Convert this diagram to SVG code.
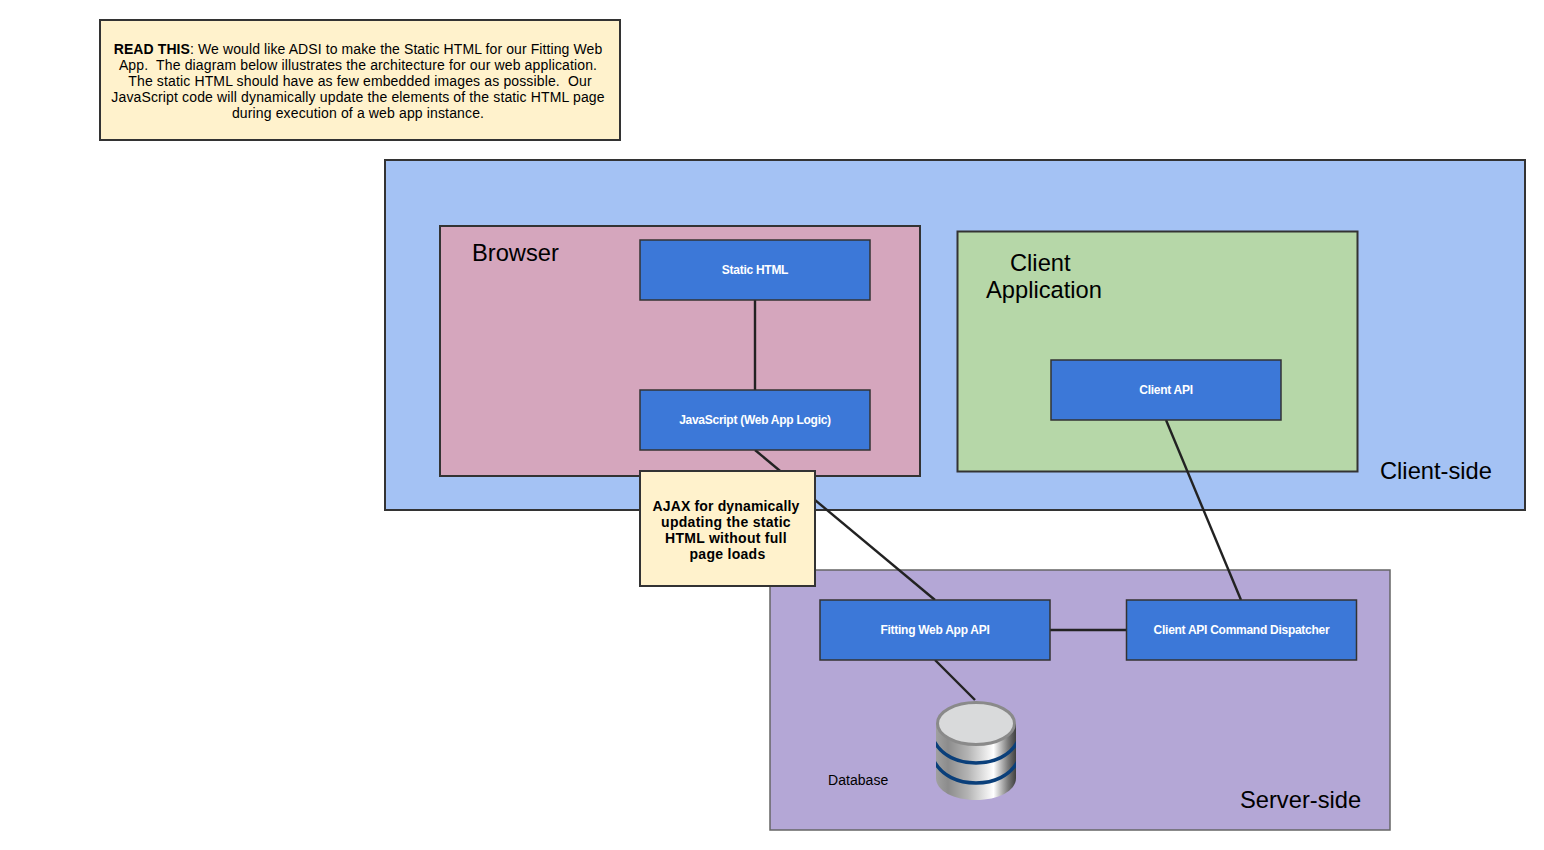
<svg xmlns="http://www.w3.org/2000/svg" width="1544" height="850" viewBox="0 0 1544 850">
<defs>
<linearGradient id="cyl" x1="0" y1="0" x2="1" y2="0">
<stop offset="0" stop-color="#a0a0a0"/><stop offset="0.15" stop-color="#8c8c8c"/><stop offset="0.4" stop-color="#b4b4b4"/><stop offset="0.72" stop-color="#ffffff"/><stop offset="0.9" stop-color="#7a7a7a"/><stop offset="1" stop-color="#3f3f3f"/>
</linearGradient>
<clipPath id="cylclip"><path d="M936 724V778C936 791 954 800 976 800S1016 791 1016 778V724Z"/></clipPath>
</defs>
<style>
text{font-family:"Liberation Sans",Arial,sans-serif;fill:#000}
.box{stroke:#333;stroke-width:2}
.comp{fill:#3c78d8;stroke:#333;stroke-width:1.500}
.clabel{font-size:12px;font-weight:bold;fill:#fff;text-anchor:middle;letter-spacing:-.27px}
.big{font-size:23.700px}
.note{fill:#fff2cc;stroke:#333;stroke-width:2}
.nt{font-size:14px;text-anchor:middle;letter-spacing:.14px;white-space:pre}
.nb{font-size:14px;font-weight:bold;text-anchor:middle;letter-spacing:.28px}
.conn{fill:none;stroke:#222;stroke-width:2.400}
</style>
<g id="client-side"><rect class="box" x="385" y="160" width="1140" height="350" fill="#a4c2f4"/><text class="big" x="1380" y="479">Client-side</text></g>
<g id="server-side"><rect x="770" y="570" width="620" height="260" fill="#b4a7d6" stroke="#666" stroke-width="1.500"/><text class="big" x="1240" y="808">Server-side</text></g>
<g id="browser"><rect class="box" x="440" y="226" width="480" height="250" fill="#d5a6bd"/><text class="big" x="472" y="261">Browser</text></g>
<g id="client-application"><rect class="box" x="957.500" y="231.500" width="400" height="240" fill="#b6d7a8"/><text class="big" x="1010" y="271">Client</text><text class="big" x="986" y="298">Application</text></g>
<g id="connectors">
<line class="conn" x1="755" y1="300" x2="755" y2="390"/>
<line class="conn" x1="755" y1="450" x2="935" y2="600"/>
<line class="conn" x1="1166" y1="420" x2="1241" y2="600"/>
<line class="conn" x1="1050" y1="630" x2="1126" y2="630"/>
<line class="conn" x1="935" y1="660" x2="975" y2="700"/>
</g>
<g id="read-this"><rect class="note" x="100" y="20" width="520" height="120"/>
<text class="nt" x="358" y="54" style="letter-spacing:.1px"><tspan font-weight="bold">READ THIS</tspan>: We would like ADSI to make the Static HTML for our Fitting Web</text>
<text class="nt" x="358" y="70">App.  The diagram below illustrates the architecture for our web application.</text>
<text class="nt" x="360" y="86">The static HTML should have as few embedded images as possible.  Our</text>
<text class="nt" x="358" y="102">JavaScript code will dynamically update the elements of the static HTML page</text>
<text class="nt" x="358" y="118">during execution of a web app instance.</text></g>
<g id="static-html"><rect class="comp" x="640" y="240" width="230" height="60"/><text class="clabel" x="755" y="274">Static HTML</text></g>
<g id="javascript"><rect class="comp" x="640" y="390" width="230" height="60"/><text class="clabel" x="755" y="424">JavaScript (Web App Logic)</text></g>
<g id="client-api"><rect class="comp" x="1051" y="360" width="230" height="60"/><text class="clabel" x="1166" y="394">Client API</text></g>
<g id="fitting-api"><rect class="comp" x="820" y="600" width="230" height="60"/><text class="clabel" x="935" y="634">Fitting Web App API</text></g>
<g id="dispatcher"><rect class="comp" x="1126.500" y="600" width="230" height="60"/><text class="clabel" x="1241.500" y="634">Client API Command Dispatcher</text></g>
<g id="ajax-note"><rect class="note" x="640" y="471" width="175" height="115"/>
<text class="nb" x="726" y="511" style="letter-spacing:.15px">AJAX for dynamically</text>
<text class="nb" x="726" y="527">updating the static</text>
<text class="nb" x="726" y="543">HTML without full</text>
<text class="nb" x="727.500" y="559">page loads</text></g>
<g id="database">
<path d="M936 724V778C936 791 954 800 976 800S1016 791 1016 778V724Z" fill="url(#cyl)"/>
<g clip-path="url(#cylclip)" fill="none" stroke="#0a3f7a" stroke-width="3.500">
<path d="M934 741C942 756 958 763 976 763S1010 756 1018 741"/>
<path d="M934 761C942 776 958 783 976 783S1010 776 1018 761"/>
</g>
<ellipse cx="976" cy="723.500" rx="38.500" ry="21" fill="#d9dadb" stroke="#8a8a8a" stroke-width="3"/>
<text x="828" y="785" font-size="14" letter-spacing=".05">Database</text></g>
</svg>
